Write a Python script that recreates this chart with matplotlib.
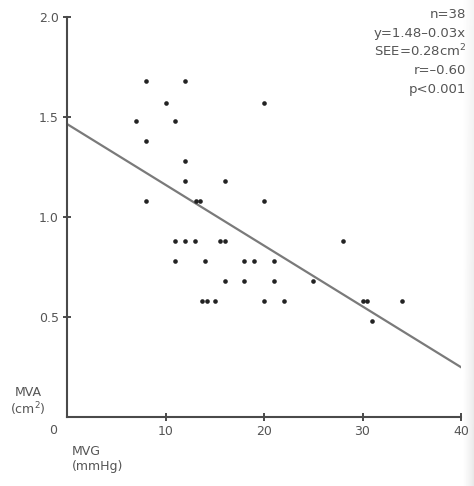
import matplotlib
matplotlib.use("Agg")
import matplotlib.pyplot as plt
import numpy as np

# Data (MVG in mmHg, MVA in cm^2)
mvg = [8, 12, 10, 20, 7, 11, 8, 12, 12, 16, 8, 13.1, 13.5, 20,
       11, 12, 13, 15.5, 16, 28,
       11, 14, 18, 19, 21,
       16, 18, 21, 25,
       13.7, 14.2, 15, 20, 22, 30, 30.5, 34,
       31]
mva = [1.68, 1.68, 1.57, 1.57, 1.48, 1.48, 1.38, 1.28, 1.18, 1.18, 1.08, 1.08, 1.08, 1.08,
       0.88, 0.88, 0.88, 0.88, 0.88, 0.88,
       0.78, 0.78, 0.78, 0.78, 0.78,
       0.68, 0.68, 0.68, 0.68,
       0.58, 0.58, 0.58, 0.58, 0.58, 0.58, 0.58, 0.58,
       0.48]
fit_intercept = 1.465
fit_slope = -0.0304
x_ticks = [10, 20, 30, 40]
x_ticklabels = ["10", "20", "30", "40"]
y_ticks = [0.5, 1.0, 1.5, 2.0]
y_ticklabels = ["0.5", "1.0", "1.5", "2.0"]
stats_lines = ["n=38", "y=1.48\u20130.03x", "SEE=0.28cm$^2$", "r=\u20130.60", "p<0.001"]

W, H = 474, 486
fig = plt.figure(figsize=(W / 100, H / 100), dpi=100)

# faint scan shadow along the right edge
shade = fig.add_axes([463 / W, 0, 11 / W, 1])
grad = np.linspace(0.0, 1.0, 20)[None, :] * np.linspace(0.5, 1.0, 50)[:, None]
shade.imshow(grad, cmap="Greys", vmin=0, vmax=6, aspect="auto", extent=[0, 1, 0, 1])
shade.axis("off")

ax = fig.add_axes([67 / W, 1 - 417 / H, (461 - 67) / W, 400 / H])

axis_col = "#4a4a4a"
text_col = "#555555"

ax.scatter(mvg, mva, s=11, color="#222222", zorder=3, linewidths=0)
xs = np.array([0, 40])
ax.plot(xs, fit_intercept + fit_slope * xs, color="#7a7a7a", lw=1.6, zorder=2)

ax.set_xlim(0, 40)
ax.set_ylim(0, 2.0)
for s in ["top", "right"]:
    ax.spines[s].set_visible(False)
for s in ["left", "bottom"]:
    ax.spines[s].set_color(axis_col)
    ax.spines[s].set_linewidth(1.5)

ax.set_xticks(x_ticks)
ax.set_xticklabels(x_ticklabels)
ax.set_yticks(y_ticks)
ax.set_yticklabels(y_ticklabels)
ax.tick_params(direction="inout", length=6, width=1.4, color=axis_col,
               labelcolor=text_col, labelsize=9, pad=3)

# origin label and axis titles
fig.text(53 / W, 1 - 430 / H, "0", ha="center", va="center", fontsize=9, color=text_col)
fig.text(28 / W, 1 - 402 / H, "MVA\n(cm$^2$)", ha="center", va="center",
         fontsize=9, color=text_col, linespacing=1.1)
fig.text(72 / W, 1 - 459 / H, "MVG\n(mmHg)", ha="left", va="center",
         fontsize=9, color=text_col, linespacing=1.2)

# stats block
ys = [14, 33, 51, 70, 89]
for t, yy in zip(stats_lines, ys):
    fig.text(466 / W, 1 - yy / H, t, ha="right", va="center", fontsize=9.5, color=text_col)

fig.savefig("out.png", dpi=100)
